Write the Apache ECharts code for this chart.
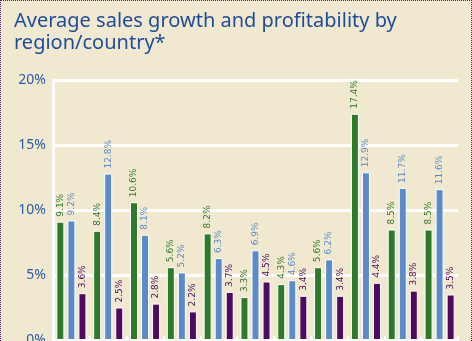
<!DOCTYPE html>
<html><head><meta charset="utf-8">
<script src="https://cdn.jsdelivr.net/npm/echarts@6/dist/echarts.min.js"></script>
<style>
html,body{margin:0;padding:0;background:#f1e9cf;}
#c{width:470px;height:340px;border-left:1px dotted #5a1a6a;border-top:1px dotted #5a1a6a;border-right:1px dotted #5a1a6a;}
</style></head>
<body><div id="c"></div>
<script>
var categories = ['R1','R2','R3','R4','R5','R6','R7','R8','R9','R10','R11'];
var salesGrowthA = [9.1, 8.4, 10.6, 5.6, 8.2, 3.3, 4.3, 5.6, 17.4, 8.5, 8.5];
var salesGrowthB = [9.2, 12.8, 8.1, 5.2, 6.3, 6.9, 4.6, 6.2, 12.9, 11.7, 11.6];
var profitability = [3.6, 2.5, 2.8, 2.2, 3.7, 4.5, 3.4, 3.4, 4.4, 3.8, 3.5];
var yTicks = [0, 5, 10, 15, 20];
var colors = ['#2f7a2a', '#5b8bc9', '#4e0a5c'];

var chart = echarts.init(document.getElementById('c'), null, {renderer:'canvas'});
function mk(name, data, color){
  return {
    name:name, type:'bar', data:data, barWidth:8, barGap:'38%',
    itemStyle:{color:color, borderColor:'#ffffff', borderWidth:1},
    label:{show:true, position:'top', rotate:90, align:'left', verticalAlign:'middle', distance:5,
      fontSize:9, fontFamily:'DejaVu Sans', color:color,
      formatter:function(p){return p.value.toFixed(1)+'%';}}
  };
}
chart.setOption({
  backgroundColor:'#f1e9cf',
  animation:false,
  title:{text:'Average sales growth and profitability by\nregion/country*', left:8, top:4,
    textStyle:{fontFamily:'Noto Sans', fontSize:20, fontWeight:'normal', color:'#1d4c9c', lineHeight:22}},
  grid:{left:52, right:13, top:79, bottom:1, outerBoundsMode:'none', containLabel:false},
  xAxis:{type:'category', data:categories,
    axisLine:{show:true, lineStyle:{color:'#ffffff', width:2}},
    axisTick:{show:true, inside:true, length:4, lineStyle:{color:'#ffffff', width:2}},
    axisLabel:{show:false}},
  yAxis:{type:'value', min:yTicks[0], max:yTicks[yTicks.length-1], interval:5,
    axisLine:{show:true, lineStyle:{color:'#ffffff', width:3}},
    axisTick:{show:false},
    splitLine:{show:true, lineStyle:{color:'#ffffff', width:3}},
    axisLabel:{fontFamily:'Noto Sans', fontSize:14, color:'#2a5ba8', margin:7,
      formatter:function(v){return v+'%';}}},
  series:[mk('A', salesGrowthA, colors[0]), mk('B', salesGrowthB, colors[1]), mk('C', profitability, colors[2])]
});
</script></body></html>
